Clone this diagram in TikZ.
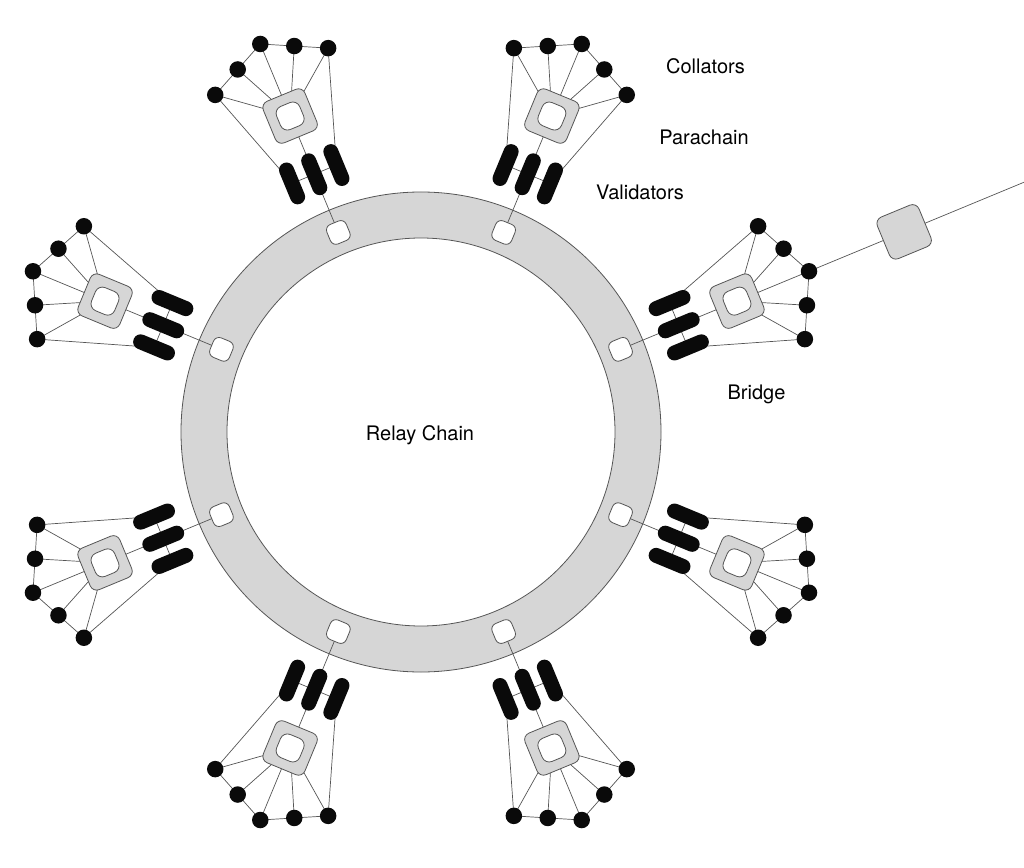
\documentclass[tikz,border=0pt]{standalone}
\usepackage{fontspec}
\setmainfont{TeX Gyre Heros}
\definecolor{ringgray}{HTML}{D6D6D6}
\definecolor{edge}{HTML}{555555}
\definecolor{dot}{HTML}{0A0A0A}
\pgfdeclarelayer{back}
\pgfdeclarelayer{mid}
\pgfsetlayers{back,mid,main}
\tikzset{
  ring/.style={draw=edge, fill=ringgray, line width=0.8pt},
  slot/.style={draw=edge, fill=white, rounded corners=6pt, minimum size=21pt, inner sep=0pt, line width=0.8pt},
  validator/.style={fill=dot, rounded corners=7.4pt, minimum width=44pt, minimum height=15pt, inner sep=0pt},
  parachain/.style={draw=edge, fill=ringgray, rounded corners=7pt, minimum size=45pt, inner sep=0pt, line width=0.8pt},
  hole/.style={draw=edge, fill=white, rounded corners=7.5pt, minimum size=25pt, inner sep=0pt, line width=0.8pt},
  collator/.style={circle, fill=dot, minimum size=16.5pt, inner sep=0pt},
  link/.style={draw=edge, line width=0.7pt},
  label/.style={font=\fontsize{20}{24}\selectfont, anchor=base, inner sep=0pt}
}
\begin{document}
\begin{tikzpicture}[x=1pt,y=1pt]
\useasboundingbox (-421,-435) rectangle (603,432);
%relay chain
\begin{pgfonlayer}{back}
\draw[ring] (0,0) circle (240);
\draw[draw=edge, fill=white, line width=0.8pt] (0,0) circle (194);
\end{pgfonlayer}
\node[label] (relay) at (-1,-8) {Relay Chain};
%parachains round the ring
\foreach \a [count=\i] in {22.5,67.5,112.5,157.5,202.5,247.5,292.5,337.5}{
  \begin{scope}[rotate=\a, transform shape]
    \node[slot] (slot\i) at (216,0) {};
    \node[validator] (val\i-1) at (279,24) {};
    \node[validator] (val\i-2) at (279,0) {};
    \node[validator] (val\i-3) at (279,-24) {};
    \node[parachain] (para\i) at (342,0) {};
    \node[hole] (hole\i) at (342,0) {};
    \node[collator] (col\i-1) at (390.2,61.1) {};
    \node[collator] (col\i-2) at (405.1,30.6) {};
    \node[collator] (col\i-3) at (420,0) {};
    \node[collator] (col\i-4) at (405.1,-30.6) {};
    \node[collator] (col\i-5) at (390.2,-61.1) {};
  \end{scope}
  \begin{pgfonlayer}{mid}
    \draw[link] (slot\i.center) -- (val\i-2.center) -- (para\i.center);
    \draw[link] (val\i-1.center) -- (val\i-3.center); %validators
    \draw[link] (val\i-1.center) -- (col\i-1.center) -- (col\i-2.center) -- (col\i-3.center)
      -- (col\i-4.center) -- (col\i-5.center) -- (val\i-3.center); %collators
    \foreach \k in {1,...,5} \draw[link] (para\i.center) -- (col\i-\k.center);
  \end{pgfonlayer}
}
%bridge
\node[parachain, rotate=22.5] (bridge) at (22.5:523) {};
\coordinate (bridgeEnd) at (22.5:653);
\begin{pgfonlayer}{mid}
\draw[link] (col1-3.center) -- (bridge.center) -- (bridgeEnd);
\end{pgfonlayer}
\node[label] (collLabel) at (284.5,358) {Collators};
\node[label] (paraLabel) at (283,287) {Parachain};
\node[label] (valLabel) at (219,232) {Validators};
\node[label] (bridgeLabel) at (335.5,33) {Bridge};
\end{tikzpicture}
\end{document}
